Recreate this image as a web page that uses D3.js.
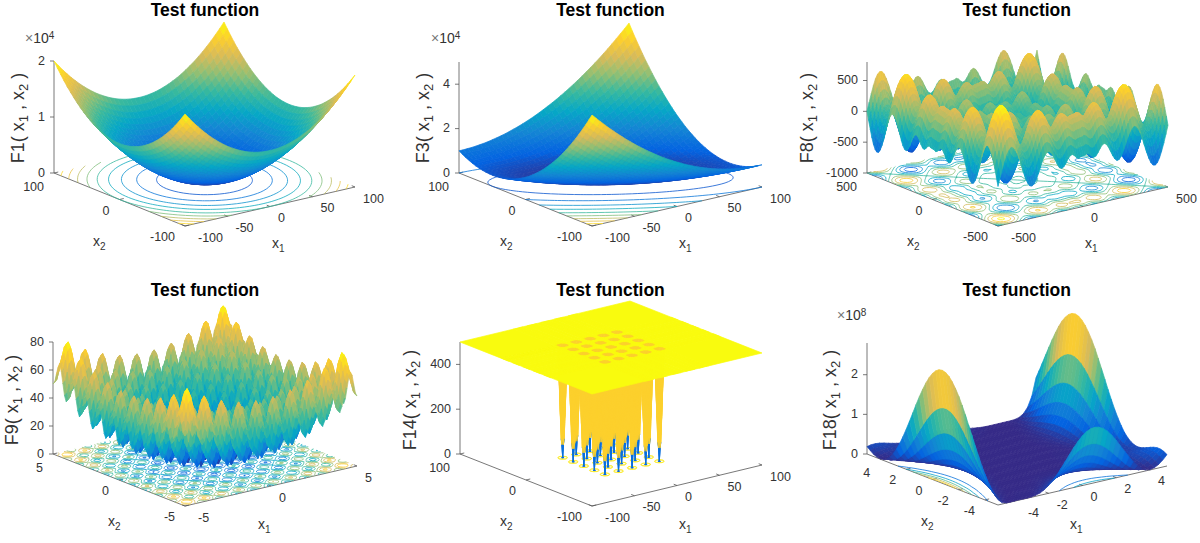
<!DOCTYPE html>
<html>
<head>
<meta charset="utf-8">
<script src="https://d3js.org/d3.v7.min.js"></script>
<style>
body { margin: 0; background: #fff; }
text { font-family: "Liberation Sans", Arial, sans-serif; fill: #333; }
</style>
</head>
<body>
<svg width="1200" height="543"></svg>
<script>
// height tables, estimated for this picture. surfaces are built from them below
var f1Half = [0,25,100,225,400,625,900,1225,1600,2025,2500,3025,3600,4225,4900,5625,6400,7225,8100,9025,10000];
var f3DiagHalf = [0,25,100,225,400,625,900,1225,1600,2025,2500,3025,3600,4225,4900,5625,6400,7225,8100,9025,10000,
  11025,12100,13225,14400,15625,16900,18225,19600,21025,22500,24025,25600,27225,28900,30625,32400,34225,36100,38025,40000];
var f8Right = [0,5,24,6,-35,-62,-52,-6,54,104,123,102,47,-29,-108,-169,-200,-192,-146,-70,26,124,211,272,300,
  288,238,155,50,-68,-185,-287,-365,-410,-417,-385,-317,-216,-93,43,180];
var f9Half = [0,2.94,10.06,17.21,20.25,17.46,10.56,3.69,1,4.19,11.56,18.96,22.25,19.71,13.06,6.44,4,7.44,15.06,22.71,26.25,23.96,17.56,11.19,9,
  12.69,20.56,28.46,32.25,30.21,24.06,17.94,16,19.94,28.06,36.21,40.25,38.46,32.56,26.69,25];
var f14Radii = [0,1.5,4,4.5];
var f14Heights = [0,90,440,500];
var f14Centres = [-32,-16,0,16,32];
var f14Offsets = [-5,-4,-3,-2,-1,0,1,2,3,4,5];
var f18A = [37180,33740,30545,27578,24833,22294,19956,17802,15828,14019,12370,10866,9505,8272,7163,6166,5276,4483,3783,3165,2625,2155,1750,1402,1108,860,656,488,353,246,165,104,60,30.6,12.7,3.6,1,3,7.7,13.8,
  20,25.5,29.7,32.2,33,32.3,30.7,28.9,28,29.4,34.7,45.9,65,94.7,137.7,197,276,378,507.7,668,865,1102,1385,1718,2108,2560,3081,3676,4353,5118,5980,6944,8020,9215,10538,11997,13601,15360,17283,19379,21660];
var f18B = [1433155,1379311,1327028,1276232,1226910,1179023,1132557,1087464,1043747,1001341,960260,920435,881878,844542,808390,773405,739587,706871,675267,644724,615230,586754,559283,532779,507235,482613,458902,436067,414102,392966,372660,353140,334403,316415,299165,282624,266782,251610,237097,223216,
  209955,197288,185208,173687,162710,152258,142322,132875,123907,115399,107335,99699,92478,85653,79215,73143,67427,62051,57002,52265,47830,43681,39808,36196,32835,29712,26817,24136,21662,19381,17285,15361,13603,11999,10540,9217,8022,6946,5982,5120,
  4355,3678,3083,2562,2110,1720,1387,1104,867,670,509.7,380,278,199,139.7,96.7,67,47.8,36.7,31.4,
  30,30.9,32.7,34.3,35,34.2,31.7,27.5,22,15.8,9.7,5,3,5.6,14.7,32.7,62,105.7,166.7,248.6,355,490,657.7,863,1110,1405,1752,2157,2627,3167,3785,4486,5278,6168,7165,8275,9507,10870,12372,14022,
  15830,17805,19958,22298,24835,27581,30547,33743,37182,40875,44835,49073,53603,58438,63590,69073,74902,81090,87652,94600,101955,109728,117934,126588,135710,145313,155417,166035,177187,188887,201160,214014,227478,241564,256290,271677,287747,304521,322006,340234,
  359230,379007,399582,420985,443235,466352,490361,515282,541142,567955,595760,624568,654403,685297,717265,750341,784542,819905,856436,894177,933155];

// parula colour stops
var parulaStops = ["#352A87","#0363E1","#1485D4","#06A7C6","#38B99E","#92BF73","#D9BB59","#FCCE2E","#F9FB0E"];

function mirror(half) { return half.slice(1).reverse().concat(half); }
var f1Profile = mirror(f1Half);
var f3Diag = mirror(f3DiagHalf);
var f9Profile = mirror(f9Half);
var f8Profile = f8Right.slice(1).reverse().map(function(v){ return -v; }).concat(f8Right);

// F14 axis nodes: plate edges plus the samples round each well
var f14Axis = [-100];
f14Centres.forEach(function(c) {
  f14Offsets.forEach(function(o) { f14Axis.push(c + o); });
});
f14Axis.push(100);
var f14Depth = d3.scaleLinear().domain(f14Radii).range(f14Heights).clamp(true);

// the wells in the reference are flat coloured: orange walls, blue tips
function f14CellZ(zs) {
  if (d3.min(zs) >= 500) return 500;
  return d3.max(zs) > 100 ? 440 : d3.max(zs);
}

var panels = [
 { name:"F1", axis:d3.range(-100,101,5), xlim:[-100,100], zlim:[0,2], zmax:2,
   val:function(i,j){ return (f1Profile[i]+f1Profile[j])/1e4; },
   levels:d3.range(0.2,1.9,0.2), xt:[-100,-50,0,50,100], yt:[-100,0,100], zt:[0,1,2],
   front:[185,226], left:[54,173], right:[355,187], zPx:112, title:[205,16],
   zlab:[18,118], x1lab:[277,248], x2lab:[98,246], mult:[25,43,"4"] },
 { name:"F3", axis:d3.range(-100,101,5), xlim:[-100,100], zlim:[0,5], zmax:5,
   val:function(i,j){ return (f1Profile[j]+f3Diag[i+j])/1e4; },
   levels:d3.range(0.5,4.6,0.5), xt:[-100,-50,0,50,100], yt:[-100,0,100], zt:[0,2,4],
   front:[592,226], left:[459,173], right:[762,187], zPx:111, title:[610.5,16],
   zlab:[423,118], x1lab:[684,248], x2lab:[505,246], mult:[431,43,"4"] },
 { name:"F8", axis:d3.range(-500,500.1,12.5), xlim:[-500,500], zlim:[-1000,800], zmin:-837, zmax:837,
   val:function(i,j){ return f8Profile[i]+f8Profile[j]; },
   levels:d3.range(-800,801,200), xt:[-500,0,500], yt:[-500,0,500], zt:[-1000,-500,0,500],
   front:[998,226], left:[867,173], right:[1168,187], zPx:111, title:[1016.7,16],
   zlab:[807,118], x1lab:[1090,248], x2lab:[912,246] },
 { name:"F9", axis:d3.range(-5,5.01,0.125), xlim:[-5,5], zlim:[0,80], zmax:80.5,
   val:function(i,j){ return f9Profile[i]+f9Profile[j]; },
   levels:d3.range(10,71,10), xt:[-5,0,5], yt:[-5,0,5], zt:[0,20,40,60,80],
   front:[185,506], left:[53,454], right:[357,466], zPx:112, title:[205,296],
   zlab:[12,400], x1lab:[263,529], x2lab:[113,526] },
 { name:"F14", axis:f14Axis, xlim:[-100,100], zlim:[0,500], zmax:500, cellZ:f14CellZ,
   val:function(i,j){
     return f14Depth(d3.min(f14Centres, function(a){
       return d3.min(f14Centres, function(b){ return Math.hypot(f14Axis[i]-a, f14Axis[j]-b); });
     }));
   },
   levels:[30,60,80,460,480], xt:[-100,-50,0,50,100], yt:[-100,0,100], zt:[0,200,400],
   front:[592,506], left:[460,454], right:[762,465], zPx:112, title:[610.5,296],
   zlab:[410,400], x1lab:[684,529], x2lab:[505,526] },
 { name:"F18", axis:d3.range(-5,5.01,0.25), xlim:[-5,5], zlim:[0,2.8], zmax:2.8,
   val:function(i,j){ return f18A[i+j]*f18B[120+2*j-3*i]/1e8; },
   levels:[0.5,1,1.5,2,2.5], xt:[-4,-2,0,2,4], yt:[-4,-2,0,2,4], zt:[0,1,2],
   front:[998,505], left:[867,454], right:[1167,466], zPx:111, title:[1016.7,296],
   zlab:[830,400], x1lab:[1075,529], x2lab:[926,526], mult:[837,320,"8"] }
];

var parula = d3.scaleLinear()
  .domain(parulaStops.map(function(d,i){ return i/(parulaStops.length-1); }))
  .range(parulaStops).clamp(true);

var svg = d3.select("svg");

panels.forEach(function(p) {
  var g = svg.append("g");
  var n = p.axis.length;
  var xn = d3.scaleLinear().domain(p.xlim).range([0,1]);
  var zPos = d3.scaleLinear().domain(p.zlim).range([0,p.zPx]);
  var colour = d3.scaleLinear().domain([p.zmin||0,p.zmax]).range([0,1]);
  var ux = p.right[0]-p.front[0], uy = p.right[1]-p.front[1];
  var vx = p.left[0]-p.front[0],  vy = p.left[1]-p.front[1];
  function proj(x1,x2,z) {
    var a = xn(x1), b = xn(x2);
    return [p.front[0]+a*ux+b*vx, p.front[1]+a*uy+b*vy-zPos(z)];
  }
  var zFloor = p.zlim[0];

  // axes
  var axisCol = "#555";
  function seg(a,b) {
    g.append("line").attr("x1",a[0]).attr("y1",a[1]).attr("x2",b[0]).attr("y2",b[1])
      .attr("stroke",axisCol).attr("stroke-width",0.8);
  }
  seg(p.left,p.front); seg(p.front,p.right);
  seg(p.left,[p.left[0],p.left[1]-p.zPx]);
  p.xt.forEach(function(t,k) {
    var q = proj(t,p.xlim[0],zFloor);
    seg(q,[q[0]+vx*0.025,q[1]+vy*0.025]);
    g.append("text").attr("x",q[0]+(k==0?13:8)).attr("y",q[1]+15.5).attr("font-size",12.5).text(t);
  });
  p.yt.forEach(function(t,k) {
    var q = proj(p.xlim[0],t,zFloor);
    seg(q,[q[0]+ux*0.025,q[1]+uy*0.025]);
    g.append("text").attr("x",q[0]-10).attr("y",q[1]+(k==p.yt.length-1?18:15))
      .attr("text-anchor","end").attr("font-size",12.5).text(t);
  });
  p.zt.forEach(function(t) {
    var y = p.left[1]-zPos(t);
    seg([p.left[0]-4,y],[p.left[0],y]);
    g.append("text").attr("x",p.left[0]-9).attr("y",y+3.5).attr("text-anchor","end").attr("font-size",12.5).text(t);
  });

  // height grid, first index x1, second x2
  var vals = new Array(n*n);
  for (var j=0;j<n;j++) for (var i=0;i<n;i++) vals[i+j*n] = p.val(i,j);

  // floor contours
  var toAxis = d3.scaleLinear().domain(d3.range(n)).range(p.axis);
  var contours = d3.contours().size([n,n]).smooth(true).thresholds(p.levels)(vals);
  var line = d3.line()
    .defined(function(d){ return d[0]>0 && d[0]<n && d[1]>0 && d[1]<n; })
    .x(function(d){ return proj(toAxis(d[0]-0.5),toAxis(d[1]-0.5),zFloor)[0]; })
    .y(function(d){ return proj(toAxis(d[0]-0.5),toAxis(d[1]-0.5),zFloor)[1]; });
  contours.forEach(function(c) {
    var d = "";
    c.coordinates.forEach(function(poly){ poly.forEach(function(ring){ d += line(ring)||""; }); });
    g.append("path").attr("d",d).attr("fill","none").attr("stroke-width",0.8)
      .attr("stroke",parula(colour(c.value)));
  });

  // surface cells, painted back to front
  var cells = [];
  for (var b=0;b<n-1;b++) for (var a=0;a<n-1;a++) {
    var zs = [vals[a+b*n],vals[a+1+b*n],vals[a+1+(b+1)*n],vals[a+(b+1)*n]];
    cells.push({ pts:[proj(p.axis[a],p.axis[b],zs[0]),proj(p.axis[a+1],p.axis[b],zs[1]),
                      proj(p.axis[a+1],p.axis[b+1],zs[2]),proj(p.axis[a],p.axis[b+1],zs[3])],
                 depth:xn(p.axis[a])+xn(p.axis[a+1])+xn(p.axis[b])+xn(p.axis[b+1]),
                 z:p.cellZ ? p.cellZ(zs) : d3.mean(zs) });
  }
  cells.sort(function(m,k){ return k.depth-m.depth; });
  g.append("g").selectAll("path").data(cells).enter().append("path")
    .attr("d",function(d){ return "M"+d.pts.map(function(q){ return q[0].toFixed(1)+","+q[1].toFixed(1); }).join("L")+"Z"; })
    .attr("fill",function(d){ return parula(colour(d.z)); })
    .attr("stroke",function(d){ return parula(colour(d.z)); })
    .attr("stroke-width",0.7);

  // text
  g.append("text").attr("x",p.title[0]).attr("y",p.title[1]).attr("text-anchor","middle")
    .attr("font-size",17.5).attr("font-weight","bold").style("fill","#000").text("Test function");
  function sub(sel,base,s) {
    sel.append("tspan").text(base);
    sel.append("tspan").attr("dy",4).attr("font-size",10).text(s);
  }
  var zl = g.append("text").attr("font-size",18).attr("text-anchor","middle")
    .attr("transform","translate("+p.zlab[0]+","+p.zlab[1]+") rotate(-90)").attr("y",6);
  zl.append("tspan").text(p.name+"( x");
  zl.append("tspan").attr("dy",4).attr("font-size",13).text("1");
  zl.append("tspan").attr("dy",-4).text(" , x");
  zl.append("tspan").attr("dy",4).attr("font-size",13).text("2");
  zl.append("tspan").attr("dy",-4).text(" )");
  sub(g.append("text").attr("x",p.x1lab[0]-5).attr("y",p.x1lab[1]).attr("font-size",14),"x","1");
  sub(g.append("text").attr("x",p.x2lab[0]-5).attr("y",p.x2lab[1]).attr("font-size",14),"x","2");
  if (p.mult) {
    var mt = g.append("text").attr("x",p.mult[0]).attr("y",p.mult[1]).attr("font-size",14);
    mt.append("tspan").style("fill","#777").text("\u00d7");
    mt.append("tspan").text("10");
    mt.append("tspan").attr("dy",-4).attr("font-size",10).text(p.mult[2]);
  }
});
</script>
</body>
</html>
